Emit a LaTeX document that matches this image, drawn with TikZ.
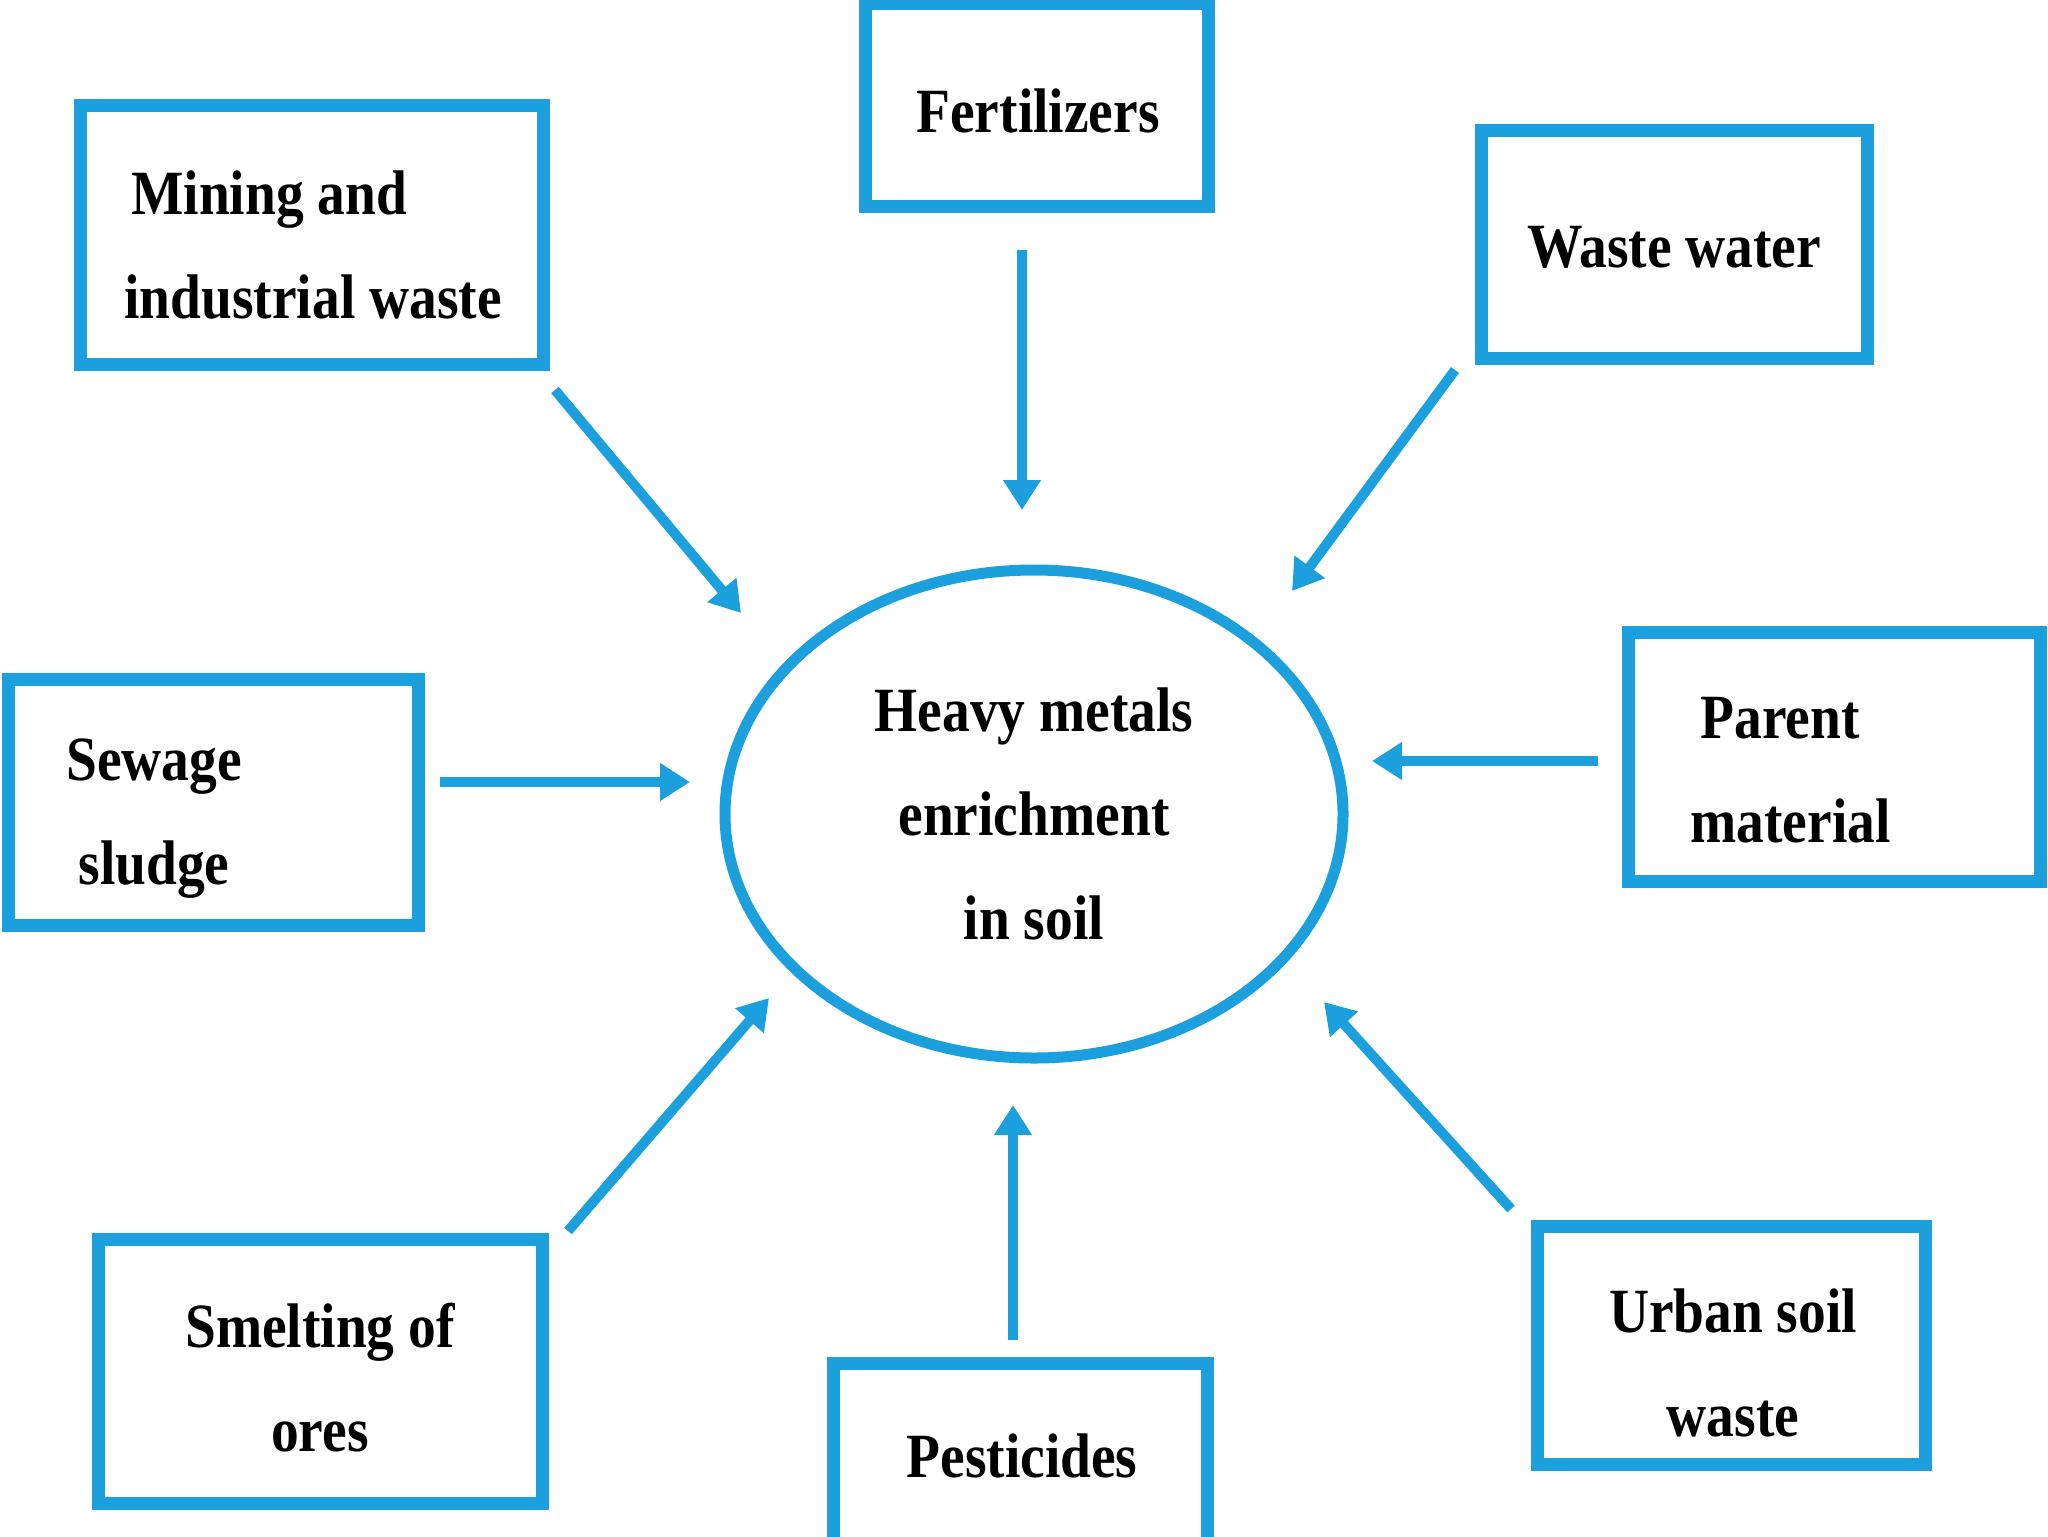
\documentclass[tikz,border=0pt]{standalone}
\usepackage{fontspec}
\newfontfamily\lblfont[FakeStretch=0.88]{Liberation Serif Bold}
\usetikzlibrary{arrows.meta,shapes.geometric}
\definecolor{skyblue}{RGB}{27,160,221}
\begin{document}
\begin{tikzpicture}[x=0.5pt,y=-0.5pt,
  box/.style={draw=skyblue, line width=6.5pt, rectangle, inner sep=0pt},
  oval/.style={draw=skyblue, line width=5.5pt, ellipse, inner sep=0pt, minimum width=309pt, minimum height=244pt},
  lbl/.style={font=\lblfont\fontsize{31.5pt}{52pt}\selectfont, inner sep=0pt, text=black},
  arr/.style={draw=skyblue, line width=5pt, -{Triangle[length=15pt,width=18pt]}}]
\useasboundingbox (0,0) rectangle (2048,1536);
\fill[white] (0,0) rectangle (2048,1536);
\clip (0,0) rectangle (2048,1536);

% boxes
\node[box, minimum width=231.5pt, minimum height=129pt] (mining) at (311.5,235) {};
\node[box, minimum width=171.5pt, minimum height=101pt] (fert) at (1036.5,105) {};
\node[box, minimum width=193pt, minimum height=114pt] (waste) at (1674,244) {};
\node[box, minimum width=205pt, minimum height=123pt] (sewage) at (213,802) {};
\node[box, minimum width=206pt, minimum height=124.5pt] (parent) at (1834,756.5) {};
\node[box, minimum width=222pt, minimum height=132pt] (smelt) at (320,1371) {};
\node[box, minimum width=187pt, minimum height=98.5pt] (pest) at (1020,1461.5) {};
\node[box, minimum width=194pt, minimum height=119pt] (urban) at (1731,1345) {};
\node[oval, lbl, align=center] (heavy) at (1034,814) {Heavy metals\\enrichment\\in soil};

% labels
\node[lbl, align=left, anchor=west] (miningt) at (124,245) {\hspace*{3.5pt}Mining and\\industrial waste};
\node[lbl] (fertt) at (1038,110.5) {Fertilizers};
\node[lbl] (wastet) at (1674,247.5) {Waste water};
\node[lbl, align=center] (sewaget) at (154,819) {Sewage\\sludge};
\node[lbl, align=left, anchor=west] (parentt) at (1690,770) {\hspace*{5pt}Parent\\material};
\node[lbl, align=center] (smeltt) at (320,1377.5) {Smelting of\\ores};
\node[lbl] (pestt) at (1022,1455.5) {Pesticides};
\node[lbl, align=center] (urbant) at (1733,1362.5) {Urban soil\\waste};

% arrow end points
\coordinate (a1s) at (555,390);   \coordinate (a1e) at (741,613);
\coordinate (a2s) at (1022,250);  \coordinate (a2e) at (1022,510);
\coordinate (a3s) at (1455,370);  \coordinate (a3e) at (1292,591);
\coordinate (a4s) at (440,782);   \coordinate (a4e) at (690,782);
\coordinate (a5s) at (1598,761);  \coordinate (a5e) at (1372,761);
\coordinate (a6s) at (568,1231);  \coordinate (a6e) at (769,998);
\coordinate (a7s) at (1013,1340); \coordinate (a7e) at (1013,1105);
\coordinate (a8s) at (1511,1209); \coordinate (a8e) at (1324,1002);

\draw[arr] (a1s) -- (a1e);
\draw[arr] (a2s) -- (a2e);
\draw[arr] (a3s) -- (a3e);
\draw[arr] (a4s) -- (a4e);
\draw[arr] (a5s) -- (a5e);
\draw[arr] (a6s) -- (a6e);
\draw[arr] (a7s) -- (a7e);
\draw[arr] (a8s) -- (a8e);
\end{tikzpicture}
\end{document}
